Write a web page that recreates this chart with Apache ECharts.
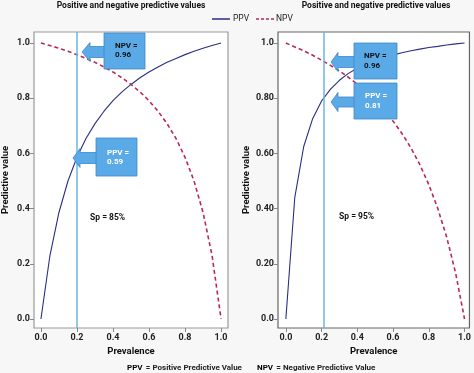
<!DOCTYPE html>
<html><head><meta charset="utf-8">
<script src="https://cdn.jsdelivr.net/npm/echarts@6/dist/echarts.min.js"></script>
<style>html,body{margin:0;padding:0;background:#f7f7f7}#c{width:474px;height:373px}</style>
</head><body><div id="c"></div>
<script>
const prevalence = [0,0.05,0.1,0.15,0.2,0.25,0.3,0.35,0.4,0.45,0.5,0.55,0.6,0.65,0.7,0.75,0.8,0.85,0.9,0.95,1];
const ppvSp85 = [0,0.23,0.386,0.5,0.586,0.654,0.708,0.753,0.791,0.823,0.85,0.874,0.895,0.913,0.93,0.944,0.958,0.97,0.981,0.991,1];
const npvSp85 = [1,0.991,0.981,0.97,0.958,0.944,0.93,0.913,0.895,0.874,0.85,0.823,0.791,0.753,0.708,0.654,0.586,0.5,0.386,0.23,0];
const ppvSp95 = [0,0.441,0.625,0.726,0.79,0.833,0.865,0.89,0.909,0.925,0.938,0.948,0.957,0.965,0.972,0.978,0.984,0.988,0.993,0.997,1];
const npvSp95 = [1,0.986,0.972,0.956,0.938,0.919,0.899,0.876,0.851,0.823,0.792,0.757,0.717,0.672,0.62,0.559,0.487,0.401,0.297,0.167,0];
const xTicks = [0,0.2,0.4,0.6,0.8,1];
const xTickLabels = ['0.0','0.2','0.4','0.6','0.8','1.0'];
const yTicks = [0,0.2,0.4,0.6,0.8,1];
const yTickLabelsLeft = ['0.0','0.2','0.4','0.6','0.8','1.0'];
const yTickLabelsRight = ['0.0','0.20','0.40','0.60','0.80','1.0'];
const refPrevalence = [0.195, 0.21];
const seriesNames = ['PPV', 'NPV'];
const panelTitle = 'Positive and negative predictive values';
const panelNotes = ['Sp = 85%', 'Sp = 95%'];
const calloutTexts = [['NPV =','0.96'],['PPV =','0.59'],['NPV =','0.96'],['PPV =','0.81']];

const FONT = '"Roboto", sans-serif';
const chart = echarts.init(document.getElementById('c'), null, {renderer:'canvas'});

function pairs(ys){ return prevalence.map((x,i)=>[x, ys[i]]); }
function labelFrom(ticks, labels){ return v => { const i = ticks.findIndex(t => Math.abs(t - v) < 1e-6); return i >= 0 ? labels[i] : ''; }; }

function xAxis(idx, min, max){
  return {type:'value', gridIndex:idx, min:min, max:max,
    name:'Prevalence', nameLocation:'middle', nameGap:18,
    nameTextStyle:{fontFamily:FONT, fontSize:9.5, fontWeight:'bold', color:'#111'},
    axisLine:{show:false, onZero:false}, splitLine:{show:false},
    axisTick:{show:true, inside:false, length:4, customValues:xTicks, lineStyle:{color:'#888'}},
    axisLabel:{customValues:xTicks, formatter:labelFrom(xTicks, xTickLabels), margin:5,
      fontFamily:FONT, fontSize:9, fontWeight:'bold', color:'#222'}};
}
function yAxis(idx, labels){
  return {type:'value', gridIndex:idx, min:-0.0326, max:1.04,
    name:'Predictive value', nameLocation:'middle', nameGap:23,
    nameTextStyle:{fontFamily:FONT, fontSize:9.5, fontWeight:'bold', color:'#111'},
    axisLine:{show:false, onZero:false}, splitLine:{show:false},
    axisTick:{show:true, inside:false, length:4, customValues:yTicks, lineStyle:{color:'#888'}},
    axisLabel:{customValues:yTicks, formatter:labelFrom(yTicks, labels), margin:4,
      fontFamily:FONT, fontSize:9, fontWeight:'bold', color:'#222'}};
}
const ppvStyle = {color:'#2a2d86', width:1.1, type:'solid'};
const npvStyle = {color:'#b8285c', width:1.6, type:[4,3]};
function vline(v){
  return {silent:true, symbol:'none', label:{show:false},
    lineStyle:{color:'#6db6e3', width:1.5, type:'solid'}, data:[{xAxis:v}], animation:false};
}

function callout(tip, headX, headHalf, shaftHalf, box, lines, textColor, textX, textY){
  const [tx, ty] = tip;
  const els = [];
  els.push({type:'polygon', z:100, shape:{points:[[tx,ty],[headX,ty-headHalf],[headX,ty-shaftHalf],[box[0]+2,ty-shaftHalf],[box[0]+2,ty+shaftHalf],[headX,ty+shaftHalf],[headX,ty+headHalf]]},
    style:{fill:'#5aaae8', stroke:'#3f86c8', lineWidth:0.8}});
  els.push({type:'rect', z:101, shape:{x:box[0], y:box[1], width:box[2], height:box[3]},
    style:{fill:'#5aaae8', stroke:'#3f86c8', lineWidth:0.8}});
  lines.forEach((t,i)=>{
    els.push({type:'text', z:102, x:textX, y:textY[i], style:{text:t, fill:textColor, font:'bold 8px '+FONT, textVerticalAlign:'middle'}});
  });
  return els;
}

const legendEls = [
  {type:'line', z:50, shape:{x1:212, y1:19, x2:230, y2:19}, style:{stroke:ppvStyle.color, lineWidth:1.5}},
  {type:'text', z:50, x:233, y:19, style:{text:seriesNames[0], fill:'#222', font:'8.5px '+FONT, textVerticalAlign:'middle'}},
  {type:'line', z:50, shape:{x1:256, y1:19, x2:274, y2:19}, style:{stroke:npvStyle.color, lineWidth:1.5, lineDash:[3,2]}},
  {type:'text', z:50, x:276, y:19, style:{text:seriesNames[1], fill:'#222', font:'8.5px '+FONT, textVerticalAlign:'middle'}}
];

const graphics = [].concat(
  callout([82,52], 90, 9.5, 5.5, [104,33,41,36], calloutTexts[0], '#111', 115, [45.5,54.5]),
  callout([73,158], 80, 9.5, 5.5, [96,138,41,38], calloutTexts[1], '#fff', 107, [153,162]),
  callout([331,62], 338, 9.5, 5.5, [354,43,43,36], calloutTexts[2], '#111', 364, [56,65.5]),
  callout([331,102], 338, 9.5, 5, [354,83,43,36], calloutTexts[3], '#fff', 365, [96,106]),
  legendEls,
  [
    {type:'text', z:50, x:131, y:6, style:{text:panelTitle, fill:'#111', font:'bold 8.5px '+FONT, textAlign:'center', textVerticalAlign:'middle'}},
    {type:'text', z:50, x:376, y:6, style:{text:panelTitle, fill:'#111', font:'bold 8.5px '+FONT, textAlign:'center', textVerticalAlign:'middle'}},
    {type:'text', z:50, x:90, y:218, style:{text:panelNotes[0], fill:'#111', font:'bold 8.5px '+FONT, textVerticalAlign:'middle'}},
    {type:'text', z:50, x:339, y:217, style:{text:panelNotes[1], fill:'#111', font:'bold 8.5px '+FONT, textVerticalAlign:'middle'}},
    {type:'text', z:50, x:127, y:368, style:{text:'{b|PPV} {m|= Positive Predictive Value}', textVerticalAlign:'middle',
      rich:{b:{font:'bold 8px '+FONT, fill:'#000'}, m:{font:'bold 8px '+FONT, fill:'#222'}}}},
    {type:'text', z:50, x:257, y:368, style:{text:'{b|NPV} {m|= Negative Predictive Value}', textVerticalAlign:'middle',
      rich:{b:{font:'bold 8px '+FONT, fill:'#000'}, m:{font:'bold 8px '+FONT, fill:'#222'}}}}
  ]
);

chart.setOption({
  backgroundColor:'#f7f7f7',
  animation:false,
  grid:[
    {left:32, top:32, width:196, height:296, show:true, backgroundColor:'#fff', borderColor:'#9a9a9a', borderWidth:1.2},
    {left:278, top:32, width:195, height:296, show:true, backgroundColor:'#fff', borderColor:'#666', borderWidth:1.2}
  ],
  xAxis:[xAxis(0, -0.0385, 1.0385), xAxis(1, -0.044, 1.0275)],
  yAxis:[yAxis(0, yTickLabelsLeft), yAxis(1, yTickLabelsRight)],
  series:[
    {name:seriesNames[0], type:'line', xAxisIndex:0, yAxisIndex:0, data:pairs(ppvSp85), symbol:'none', lineStyle:ppvStyle, itemStyle:{color:ppvStyle.color}, markLine:vline(refPrevalence[0])},
    {name:seriesNames[1], type:'line', xAxisIndex:0, yAxisIndex:0, data:pairs(npvSp85), symbol:'none', lineStyle:npvStyle, itemStyle:{color:npvStyle.color}},
    {name:seriesNames[0], type:'line', xAxisIndex:1, yAxisIndex:1, data:pairs(ppvSp95), symbol:'none', lineStyle:ppvStyle, itemStyle:{color:ppvStyle.color}, markLine:vline(refPrevalence[1])},
    {name:seriesNames[1], type:'line', xAxisIndex:1, yAxisIndex:1, data:pairs(npvSp95), symbol:'none', lineStyle:npvStyle, itemStyle:{color:npvStyle.color}}
  ],
  graphic:graphics
});
</script></body></html>
